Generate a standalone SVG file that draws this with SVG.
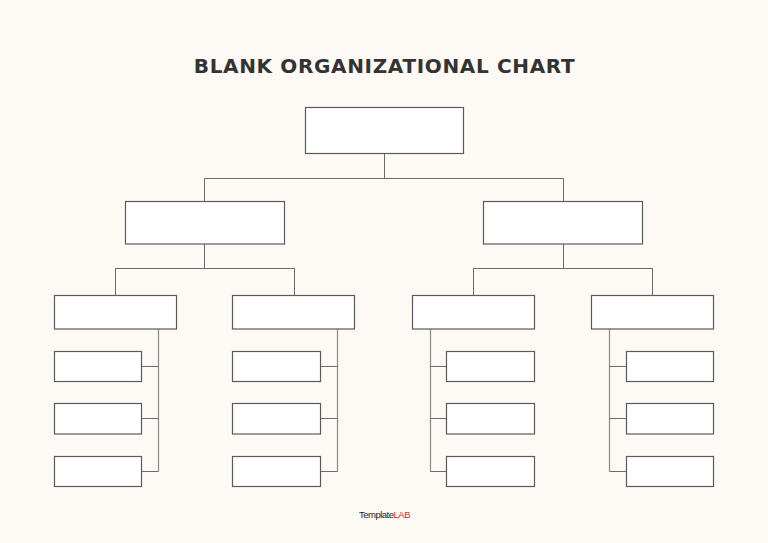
<svg xmlns="http://www.w3.org/2000/svg" width="768" height="543" viewBox="0 0 768 543">
<style>
.box{fill:#ffffff;stroke:#5a5a5a;stroke-width:1.2}
.ln{fill:none;stroke:#6a6a6a;stroke-width:1}
.bar{fill:none;stroke:#8a8a8a;stroke-width:1.2}
.title{font-family:"DejaVu Sans",Verdana,sans-serif;font-weight:bold;font-size:20px;letter-spacing:0.65px;fill:#333333}
</style>
<rect x="0" y="0" width="768" height="543" fill="#fdfaf5"/>
<text class="title" x="384.5" y="72.5" text-anchor="middle">BLANK ORGANIZATIONAL CHART</text>
<g id="connectors">
<path class="ln" d="M384.5 154V178.5M204.5 178.5H563.5M204.5 178.5V201.5M563.5 178.5V201.5"/>
<path class="ln" d="M204.5 244V268.5M115.5 268.5H294.5M115.5 268.5V295.5M294.5 268.5V295.5"/>
<path class="ln" d="M563.5 244V268.5M473.5 268.5H652.5M473.5 268.5V295.5M652.5 268.5V295.5"/>
<path class="bar" d="M158.5 329V471.5M337.5 329V471.5M430.5 329V471.5M609.5 329V471.5"/>
<path class="ln" d="M141.5 366.5H158.5M141.5 418.5H158.5M141.5 471.5H158.5"/>
<path class="ln" d="M320.5 366.5H337.5M320.5 418.5H337.5M320.5 471.5H337.5"/>
<path class="ln" d="M430.5 366.5H446.5M430.5 418.5H446.5M430.5 471.5H446.5"/>
<path class="ln" d="M609.5 366.5H626.5M609.5 418.5H626.5M609.5 471.5H626.5"/>
</g>
<g id="n-top"><rect class="box" x="305.5" y="107.5" width="158" height="46"/></g>
<g id="n-mid-left"><rect class="box" x="125.5" y="201.5" width="159" height="42.5"/></g>
<g id="n-mid-right"><rect class="box" x="483.5" y="201.5" width="159" height="42.5"/></g>
<g id="n-g1"><rect class="box" x="54.5" y="295.5" width="122" height="33.5"/></g>
<g id="n-g2"><rect class="box" x="232.5" y="295.5" width="122" height="33.5"/></g>
<g id="n-g3"><rect class="box" x="412.5" y="295.5" width="122" height="33.5"/></g>
<g id="n-g4"><rect class="box" x="591.5" y="295.5" width="122" height="33.5"/></g>
<g id="n-g1-1"><rect class="box" x="54.5" y="351.5" width="87" height="30"/></g>
<g id="n-g1-2"><rect class="box" x="54.5" y="403.5" width="87" height="30.5"/></g>
<g id="n-g1-3"><rect class="box" x="54.5" y="456.5" width="87" height="30"/></g>
<g id="n-g2-1"><rect class="box" x="232.5" y="351.5" width="88" height="30"/></g>
<g id="n-g2-2"><rect class="box" x="232.5" y="403.5" width="88" height="30.5"/></g>
<g id="n-g2-3"><rect class="box" x="232.5" y="456.5" width="88" height="30"/></g>
<g id="n-g3-1"><rect class="box" x="446.5" y="351.5" width="88" height="30"/></g>
<g id="n-g3-2"><rect class="box" x="446.5" y="403.5" width="88" height="30.5"/></g>
<g id="n-g3-3"><rect class="box" x="446.5" y="456.5" width="88" height="30"/></g>
<g id="n-g4-1"><rect class="box" x="626.5" y="351.5" width="87" height="30"/></g>
<g id="n-g4-2"><rect class="box" x="626.5" y="403.5" width="87" height="30.5"/></g>
<g id="n-g4-3"><rect class="box" x="626.5" y="456.5" width="87" height="30"/></g>
<text x="384.5" y="517.5" text-anchor="middle" font-family="'Liberation Sans',Arial,sans-serif" font-size="9.5" letter-spacing="-0.5" fill="#222222">Template<tspan fill="#d9252b">LAB</tspan></text>
</svg>
